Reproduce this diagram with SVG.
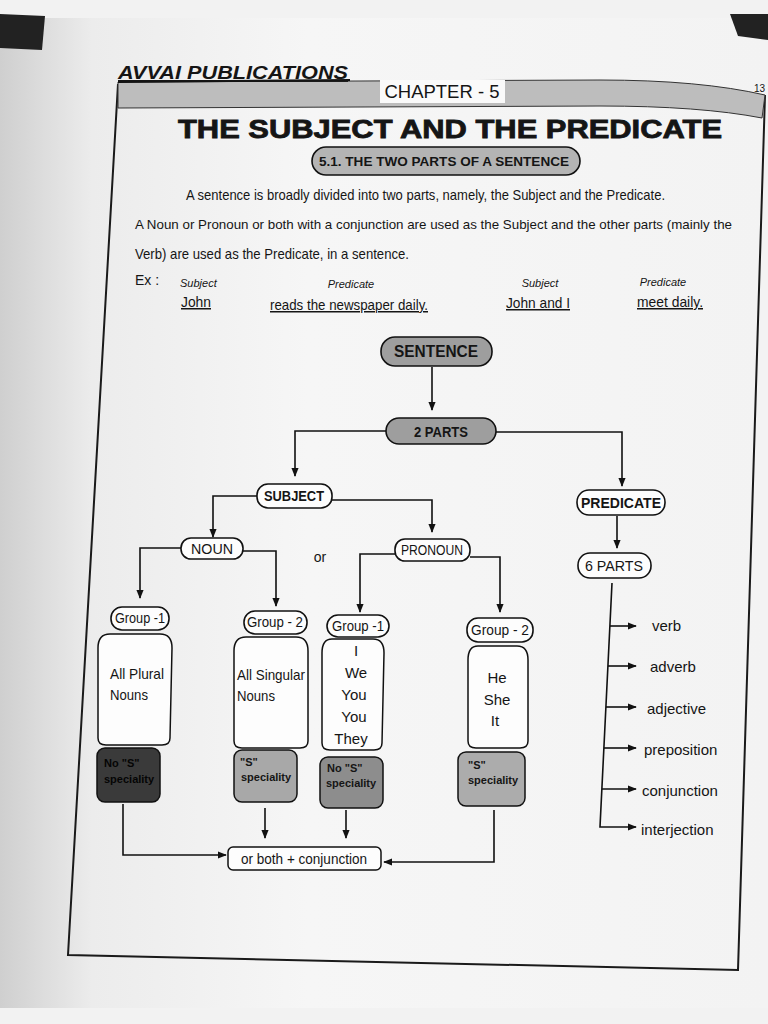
<svg xmlns="http://www.w3.org/2000/svg" width="768" height="1024" viewBox="0 0 768 1024">
<defs>
<marker id="ah2" viewBox="0 0 10 10" refX="9" refY="5" markerWidth="9" markerHeight="9" orient="auto" markerUnits="userSpaceOnUse">
<path d="M0,1 L10,5 L0,9 z" fill="#111"/>
</marker>
<linearGradient id="pg" x1="0" y1="0" x2="1" y2="0">
<stop offset="0" stop-color="#cfcfcf"/>
<stop offset="0.12" stop-color="#ececec"/>
<stop offset="0.4" stop-color="#f6f6f6"/>
<stop offset="1" stop-color="#f3f3f3"/>
</linearGradient>
</defs>
<style>
text{font-family:"Liberation Sans",Arial,sans-serif;fill:#151515}
.b{font-weight:bold}
.i{font-style:italic}
.pill{stroke:#111;stroke-width:1.6}
.w{fill:#fdfdfd}
.con{fill:none;stroke:#111;stroke-width:1.6}
.box{fill:#fdfdfd;stroke:#111;stroke-width:1.5}
.dk{fill:#050505}
</style>
<rect x="0" y="0" width="768" height="1024" fill="#f2f2f2"/>
<rect x="0" y="18" width="768" height="990" fill="url(#pg)"/>
<path d="M0,14 L45,16 L42,50 L0,48 z" fill="#222"/>
<path d="M730,14 L768,14 L768,40 L738,36 z" fill="#222"/>
<!-- page frame -->
<path d="M118,84 L68,955 L738,970 L765,95" fill="none" stroke="#1a1a1a" stroke-width="2"/>
<path d="M118,82 L600,80 Q700,80 765,95 L762,118 Q700,106 600,106 L118,108 z" fill="#bdbdbd" stroke="#333" stroke-width="1"/>
<line x1="118" y1="82" x2="350" y2="80" stroke="#111" stroke-width="2"/>
<text x="118" y="79" class="b i" font-size="19" textLength="230" lengthAdjust="spacingAndGlyphs" text-decoration="underline">AVVAI PUBLICATIONS</text>
<rect x="380" y="80" width="125" height="23" fill="#fafafa"/>
<text x="442" y="98" text-anchor="middle" font-size="18" textLength="115" lengthAdjust="spacingAndGlyphs">CHAPTER - 5</text>
<text x="754" y="92" font-size="10">13</text>
<text x="450" y="138" text-anchor="middle" class="b" font-size="25" stroke="#151515" stroke-width="0.8" textLength="544" lengthAdjust="spacingAndGlyphs">THE SUBJECT AND THE PREDICATE</text>
<g id="section">
<rect x="312" y="147" width="268" height="28" rx="14" class="pill" fill="#b4b4b4"/>
<text x="444" y="166" text-anchor="middle" class="b" font-size="13" textLength="250" lengthAdjust="spacingAndGlyphs">5.1. THE TWO PARTS OF A SENTENCE</text>
</g>
<text x="186" y="200" font-size="15" textLength="479" lengthAdjust="spacingAndGlyphs">A sentence is broadly divided into two parts, namely, the Subject and  the Predicate.</text>
<text x="135" y="229" font-size="13.2" textLength="597" lengthAdjust="spacingAndGlyphs">A Noun or Pronoun or both with a conjunction are used as the Subject and the other parts (mainly the</text>
<text x="135" y="259" font-size="15" textLength="274" lengthAdjust="spacingAndGlyphs">Verb) are used as the Predicate, in a sentence.</text>
<text x="135" y="285" font-size="14">Ex :</text>
<text x="180" y="287" class="i" font-size="11">Subject</text>
<text x="351" y="288" class="i" font-size="11" text-anchor="middle">Predicate</text>
<text x="540" y="287" class="i" font-size="11" text-anchor="middle">Subject</text>
<text x="663" y="286" class="i" font-size="11" text-anchor="middle">Predicate</text>
<text x="181" y="307" font-size="15" text-decoration="underline" textLength="30" lengthAdjust="spacingAndGlyphs">John</text>
<text x="270" y="310" font-size="15" text-decoration="underline" textLength="158" lengthAdjust="spacingAndGlyphs">reads the newspaper daily.</text>
<text x="506" y="308" font-size="15" text-decoration="underline" textLength="64" lengthAdjust="spacingAndGlyphs">John and I</text>
<text x="637" y="307" font-size="15" text-decoration="underline" textLength="66" lengthAdjust="spacingAndGlyphs">meet daily.</text>

<g id="connectors">
<line x1="432" y1="367" x2="432" y2="410" class="con" marker-end="url(#ah2)"/>
<polyline points="386,431 295,431 295,476" class="con" marker-end="url(#ah2)"/>
<polyline points="496,432 622,432 622,486" class="con" marker-end="url(#ah2)"/>
<polyline points="257,496 213,496 213,537" class="con" marker-end="url(#ah2)"/>
<polyline points="332,500 432,500 432,532" class="con" marker-end="url(#ah2)"/>
<line x1="617" y1="516" x2="617" y2="548" class="con" marker-end="url(#ah2)"/>
<polyline points="181,548 140,548 140,598" class="con" marker-end="url(#ah2)"/>
<polyline points="243,551 276,551 276,606" class="con" marker-end="url(#ah2)"/>
<polyline points="395,554 360,554 360,612" class="con" marker-end="url(#ah2)"/>
<polyline points="470,557 500,557 500,612" class="con" marker-end="url(#ah2)"/>
<polyline points="612,583 600,827 636,827" class="con" marker-end="url(#ah2)"/>
<line x1="610" y1="626" x2="636" y2="626" class="con" marker-end="url(#ah2)"/>
<line x1="608" y1="666" x2="636" y2="666" class="con" marker-end="url(#ah2)"/>
<line x1="606" y1="707" x2="636" y2="707" class="con" marker-end="url(#ah2)"/>
<line x1="604" y1="748" x2="636" y2="748" class="con" marker-end="url(#ah2)"/>
<line x1="602" y1="789" x2="636" y2="789" class="con" marker-end="url(#ah2)"/>
<polyline points="123,804 123,855 226,855" class="con" marker-end="url(#ah2)"/>
<line x1="265" y1="808" x2="265" y2="838" class="con" marker-end="url(#ah2)"/>
<line x1="346" y1="810" x2="346" y2="838" class="con" marker-end="url(#ah2)"/>
<polyline points="494,810 494,862 384,862" class="con" marker-end="url(#ah2)"/>
</g>

<g id="n-sentence">
<rect x="381" y="337" width="111" height="29" rx="14" class="pill" fill="#9e9e9e"/>
<text x="436" y="357" text-anchor="middle" class="b" font-size="16" textLength="84" lengthAdjust="spacingAndGlyphs">SENTENCE</text>
</g>
<g id="n-2parts">
<rect x="386" y="418" width="110" height="26" rx="13" class="pill" fill="#9e9e9e"/>
<text x="441" y="437" text-anchor="middle" class="b" font-size="14" textLength="54" lengthAdjust="spacingAndGlyphs">2 PARTS</text>
</g>
<g id="n-subject">
<rect x="257" y="484" width="75" height="24" rx="11" class="pill w"/>
<text x="294" y="501" text-anchor="middle" class="b" font-size="14" textLength="60" lengthAdjust="spacingAndGlyphs">SUBJECT</text>
</g>
<g id="n-predicate">
<rect x="577" y="490" width="88" height="25" rx="12" class="pill w"/>
<text x="621" y="508" text-anchor="middle" class="b" font-size="15" textLength="80" lengthAdjust="spacingAndGlyphs">PREDICATE</text>
</g>
<g id="n-6parts">
<rect x="578" y="553" width="73" height="25" rx="12" class="pill w"/>
<text x="614" y="571" text-anchor="middle" font-size="15" textLength="58" lengthAdjust="spacingAndGlyphs">6 PARTS</text>
</g>
<g id="n-noun">
<rect x="181" y="538" width="62" height="21" rx="10" class="pill w"/>
<text x="212" y="554" text-anchor="middle" font-size="14" textLength="42" lengthAdjust="spacingAndGlyphs">NOUN</text>
</g>
<text x="320" y="562" text-anchor="middle" font-size="14">or</text>
<g id="n-pronoun">
<rect x="395" y="539" width="75" height="22" rx="10" class="pill w"/>
<text x="432" y="555" text-anchor="middle" font-size="14" textLength="62" lengthAdjust="spacingAndGlyphs">PRONOUN</text>
</g>
<g id="n-noun-g1">
<rect x="111" y="607" width="58" height="23" rx="11" class="pill w"/>
<text x="140" y="623" text-anchor="middle" font-size="14" textLength="50" lengthAdjust="spacingAndGlyphs">Group -1</text>
</g>
<g id="n-noun-g2">
<rect x="244" y="611" width="63" height="23" rx="11" class="pill w"/>
<text x="275" y="627" text-anchor="middle" font-size="14" textLength="56" lengthAdjust="spacingAndGlyphs">Group - 2</text>
</g>
<g id="n-pron-g1">
<rect x="327" y="615" width="62" height="22" rx="11" class="pill w"/>
<text x="358" y="631" text-anchor="middle" font-size="14" textLength="52" lengthAdjust="spacingAndGlyphs">Group -1</text>
</g>
<g id="n-pron-g2">
<rect x="467" y="618" width="66" height="24" rx="11" class="pill w"/>
<text x="500" y="635" text-anchor="middle" font-size="14" textLength="58" lengthAdjust="spacingAndGlyphs">Group - 2</text>
</g>
<g id="n-plural">
<path d="M110,634 L160,634 Q172,634 172,648 L170,738 Q170,745 162,745 L106,745 Q98,745 98,738 L98,648 Q98,634 110,634 z" class="box"/>
<text x="110" y="679" font-size="15" textLength="54" lengthAdjust="spacingAndGlyphs">All Plural</text>
<text x="110" y="700" font-size="15" textLength="38" lengthAdjust="spacingAndGlyphs">Nouns</text>
</g>
<g id="n-singular">
<path d="M246,637 L296,637 Q308,637 308,651 L308,741 Q308,748 300,748 L242,748 Q234,748 234,741 L234,651 Q234,637 246,637 z" class="box"/>
<text x="237" y="680" font-size="15" textLength="68" lengthAdjust="spacingAndGlyphs">All Singular</text>
<text x="237" y="701" font-size="15" textLength="38" lengthAdjust="spacingAndGlyphs">Nouns</text>
</g>
<g id="n-plural-pron">
<path d="M332,639 L373,639 Q384,639 384,653 L382,743 Q382,750 374,750 L330,750 Q322,750 322,743 L322,653 Q322,639 332,639 z" class="box"/>
<text x="356" y="656" text-anchor="middle" font-size="15">I</text>
<text x="356" y="678" text-anchor="middle" font-size="15">We</text>
<text x="354" y="700" text-anchor="middle" font-size="15">You</text>
<text x="354" y="722" text-anchor="middle" font-size="15">You</text>
<text x="351" y="744" text-anchor="middle" font-size="15">They</text>
</g>
<g id="n-sing-pron">
<path d="M478,646 L517,646 Q528,646 528,660 L528,741 Q528,748 520,748 L476,748 Q468,748 468,741 L468,660 Q468,646 478,646 z" class="box"/>
<text x="497" y="683" text-anchor="middle" font-size="15">He</text>
<text x="497" y="705" text-anchor="middle" font-size="15">She</text>
<text x="495" y="726" text-anchor="middle" font-size="15">It</text>
</g>
<g id="n-spec1">
<rect x="97" y="748" width="63" height="54" rx="8" fill="#3a3a3a" stroke="#111" stroke-width="1.5"/>
<text x="104" y="767" class="b dk" font-size="11">No "S"</text>
<text x="104" y="783" class="b dk" font-size="11">speciality</text>
</g>
<g id="n-spec2">
<rect x="234" y="750" width="63" height="52" rx="8" fill="#a8a8a8" stroke="#111" stroke-width="1.5"/>
<text x="240" y="766" class="b" font-size="11">"S"</text>
<text x="241" y="781" class="b" font-size="11">speciality</text>
</g>
<g id="n-spec3">
<rect x="320" y="757" width="63" height="51" rx="8" fill="#8d8d8d" stroke="#111" stroke-width="1.5"/>
<text x="327" y="772" class="b" font-size="11">No "S"</text>
<text x="326" y="787" class="b" font-size="11">speciality</text>
</g>
<g id="n-spec4">
<rect x="458" y="752" width="67" height="54" rx="8" fill="#acacac" stroke="#111" stroke-width="1.5"/>
<text x="468" y="769" class="b" font-size="11">"S"</text>
<text x="468" y="784" class="b" font-size="11">speciality</text>
</g>
<g id="n-both">
<rect x="228" y="847" width="153" height="23" rx="5" class="box"/>
<text x="304" y="864" text-anchor="middle" font-size="15" textLength="126" lengthAdjust="spacingAndGlyphs">or both + conjunction</text>
</g>
<g id="pred-list" font-size="15">
<text x="652" y="631">verb</text>
<text x="650" y="672">adverb</text>
<text x="647" y="714">adjective</text>
<text x="644" y="755">preposition</text>
<text x="642" y="796">conjunction</text>
<text x="641" y="835">interjection</text>
</g>
</svg>
